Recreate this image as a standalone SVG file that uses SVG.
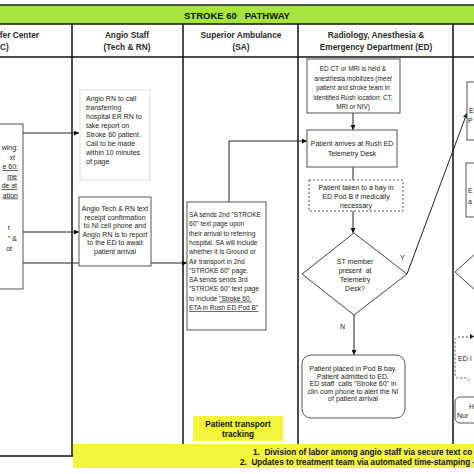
<svg xmlns="http://www.w3.org/2000/svg" width="474" height="474" viewBox="0 0 474 474">
<defs>
<marker id="arr" markerWidth="5" markerHeight="5" refX="5" refY="2.5" orient="auto" markerUnits="userSpaceOnUse">
<path d="M0,0 L5,2.5 L0,5 z" fill="#111"/>
</marker>
<style>
.hd{font-family:"Liberation Sans",Arial,sans-serif;font-weight:bold;font-size:8.3px;fill:#2a2a2a;text-anchor:middle}
.t{font-family:"Liberation Sans",Arial,sans-serif;font-size:7px;fill:#222}
.s{font-size:6.6px}
.c{text-anchor:middle}
.box{fill:#fff;stroke:#555;stroke-width:1}
.grid{stroke:#111;stroke-width:1.5;fill:none}
.con{stroke:#222;stroke-width:1;fill:none}
.yb{font-family:"Liberation Sans",Arial,sans-serif;font-weight:bold;font-size:8.2px;fill:#111}
.u{text-decoration:underline}
</style>
</defs>
<rect x="0" y="0" width="474" height="474" fill="#fff"/>

<!-- title bar -->
<g id="title">
<rect x="0" y="5" width="474" height="19" fill="#a6e63c"/>
<line x1="0" y1="5" x2="474" y2="5" stroke="#222" stroke-width="1.5"/>
<text x="237" y="18.5" font-family="Liberation Sans, Arial, sans-serif" font-weight="bold" font-size="9.5" fill="#111" text-anchor="middle" xml:space="preserve">STROKE 60   PATHWAY</text>
</g>

<!-- grid -->
<g id="grid">
<line class="grid" x1="0" y1="24" x2="474" y2="24"/>
<line class="grid" x1="0" y1="57" x2="474" y2="57"/>
<line class="grid" x1="72" y1="24" x2="72" y2="456"/>
<line class="grid" x1="183" y1="24" x2="183" y2="444"/>
<line class="grid" x1="298" y1="24" x2="298" y2="444"/>
<line class="grid" x1="453" y1="24" x2="453" y2="444"/>
<line class="grid" x1="0" y1="456" x2="73" y2="456"/>
</g>

<!-- headers -->
<g id="headers">
<text class="hd" x="39" y="38" style="text-anchor:end">fer Center</text>
<text class="hd" x="0" y="50" style="text-anchor:start">C)</text>
<text class="hd" x="127" y="38">Angio Staff</text>
<text class="hd" x="127" y="50">(Tech &amp; RN)</text>
<text class="hd" x="241" y="38">Superior Ambulance</text>
<text class="hd" x="241" y="50">(SA)</text>
<text class="hd" x="376" y="38">Radiology, Anesthesia &amp;</text>
<text class="hd" x="376" y="50">Emergency Department (ED)</text>
</g>

<!-- connectors -->
<g id="connectors">
<path class="con" d="M23,133 H79" marker-end="url(#arr)"/>
<path class="con" d="M23,232 H79" marker-end="url(#arr)"/>
<path class="con" d="M0,263 H187" marker-end="url(#arr)"/>
<path class="con" d="M229,202 V141 H307" marker-end="url(#arr)"/>
<path class="con" d="M353,113 V130" marker-end="url(#arr)"/>
<path class="con" d="M353,167 V180"/>
<path class="con" d="M353,211 V233" marker-end="url(#arr)"/>
<path class="con" d="M407,274 L467,113" marker-end="url(#arr)"/>
<path class="con" d="M354,315 V355" marker-end="url(#arr)"/>
<text class="t" x="400" y="260">Y</text>
<text class="t" x="340" y="329">N</text>
</g>

<!-- left partial box -->
<g id="tc-box">
<rect class="box" x="-5" y="124" width="28" height="165"/>
<text class="t" x="18" y="150" style="text-anchor:end">wing:</text>
<text class="t" x="15" y="159.5" style="text-anchor:end">xt</text>
<text class="t u" x="18" y="169" style="text-anchor:end">e 60:</text>
<text class="t u" x="17" y="178.5" style="text-anchor:end">me</text>
<text class="t u" x="17" y="188" style="text-anchor:end">de at</text>
<text class="t u" x="18" y="197.5" style="text-anchor:end">ation</text>
<text class="t" x="10" y="230" style="text-anchor:end">r</text>
<text class="t" x="17" y="241" style="text-anchor:end">" &amp;</text>
<text class="t" x="12" y="251" style="text-anchor:end">ot</text>
</g>

<g id="angio-rn">
<rect x="80" y="90" width="70" height="90" fill="#fff" stroke="#ddd" stroke-width="1"/>
<text class="t" x="86" y="101">Angio RN to call</text>
<text class="t" x="86" y="110">transferring</text>
<text class="t" x="86" y="119">hospital ER RN to</text>
<text class="t" x="86" y="128">take report on</text>
<text class="t" x="86" y="137">Stroke 60 patient.</text>
<text class="t" x="86" y="146">Call to be made</text>
<text class="t" x="86" y="155">within 10 minutes</text>
<text class="t" x="86" y="164">of page</text>
</g>

<g id="angio-tech">
<rect class="box" x="79" y="197" width="72" height="69"/>
<text class="t c" x="115" y="211">Angio Tech &amp; RN text</text>
<text class="t c" x="115" y="219.5">receipt confirmation</text>
<text class="t c" x="115" y="228">to NI cell phone and</text>
<text class="t c" x="115" y="236.5">Angio RN is to report</text>
<text class="t c" x="115" y="245">to the ED to await</text>
<text class="t c" x="115" y="253.5">patient arrival</text>
</g>

<g id="sa-box">
<rect class="box" x="187" y="202" width="79" height="128"/>
<text class="t s" x="189" y="217">SA sends 2nd "STROKE</text>
<text class="t s" x="189" y="226.3">60" text page upon</text>
<text class="t s" x="189" y="235.6">their arrival to referring</text>
<text class="t s" x="189" y="244.9">hospital. SA will include</text>
<text class="t s" x="189" y="254.2">whether it is Ground or</text>
<text class="t s" x="189" y="263.5">Air transport in 2nd</text>
<text class="t s" x="189" y="272.8">"STROKE 60" page.</text>
<text class="t s" x="189" y="282.1">SA sends sends 3rd</text>
<text class="t s" x="189" y="291.4">"STROKE 60" text page</text>
<text class="t s" x="189" y="300.7">to include <tspan class="u">"Stroke 60,</tspan></text>
<text class="t s u" x="189" y="310">ETA in Rush ED Pod B"</text>
</g>

<g id="ed-held">
<rect class="box" x="307" y="59" width="93" height="54"/>
<text class="t c" x="353" y="71" style="font-size:6.4px">ED CT or MRI is held &amp;</text>
<text class="t c" x="353" y="80.5" style="font-size:6.4px">anesthesia mobilizes (<tspan font-style="italic">meet</tspan></text>
<text class="t c" x="353" y="90" style="font-size:6.4px">patient and stroke team in</text>
<text class="t c" x="353" y="99.5" style="font-size:6.4px">identified Rush location: CT,</text>
<text class="t c" x="353" y="109" style="font-size:6.4px">MRI or NIV)</text>
</g>

<g id="ed-arrives">
<rect class="box" x="307" y="130" width="90" height="37"/>
<text class="t c" x="352" y="146">Patient arrives at Rush ED</text>
<text class="t c" x="352" y="155.5">Telemetry Desk</text>
</g>

<g id="ed-pod">
<rect x="309" y="180" width="94" height="31" fill="#fff" stroke="#555" stroke-width="1" stroke-dasharray="2,2"/>
<text class="t c" x="356" y="189.5">Patient taken to a bay in</text>
<text class="t c" x="356" y="199">ED Pod B if medically</text>
<text class="t c" x="356" y="207.5">necessary</text>
</g>

<g id="st-decision">
<polygon points="354,233 407,274 354,315 302,274" fill="#fff" stroke="#444" stroke-width="1"/>
<text class="t c" x="355" y="264">ST member</text>
<text class="t c" x="355" y="273" xml:space="preserve">present  at</text>
<text class="t c" x="355" y="282">Telemetry</text>
<text class="t c" x="355" y="291">Desk?</text>
</g>

<g id="ed-placed">
<rect class="box" x="302" y="355" width="103" height="63" rx="9"/>
<text class="t c" x="353" y="371">Patient placed in Pod B bay.</text>
<text class="t c" x="353" y="378.5">Patient admitted to ED.</text>
<text class="t c" x="353" y="386" xml:space="preserve">ED staff  calls "Stroke 60" in</text>
<text class="t c" x="353" y="393.5">clin com phone to alert the NI</text>
<text class="t c" x="353" y="401">of patient arrival</text>
</g>

<!-- right partial column -->
<g id="right-box-1">
<rect class="box" x="467" y="82" width="20" height="58"/>
<text class="t" x="469" y="113">E</text>
<text class="t" x="468" y="123">P</text>
</g>
<g id="right-box-2">
<rect class="box" x="466" y="163" width="20" height="54"/>
<text class="t" x="468" y="193">E</text>
<text class="t" x="468" y="204">a</text>
</g>
<g id="right-decision">
<polyline points="476,253 455,272 476,291" fill="none" stroke="#444" stroke-width="1"/>
</g>
<g id="right-dashed">
<path d="M472,337 H459 Q455,337 455,341 V374 Q455,378 459,378 H467 L470,381" fill="none" stroke="#555" stroke-width="1" stroke-dasharray="2,2"/>
<path d="M470,334 L474,336.5 L470,339 z" fill="#111"/>
<text class="t" x="458" y="361">ED I</text>
</g>
<g id="right-box-3">
<rect class="box" x="455" y="397" width="30" height="26" rx="5"/>
<text class="t" x="469" y="409">H</text>
<text class="t" x="457" y="418">Nur</text>
</g>

<!-- yellow notes -->
<g id="transport-tracking">
<rect x="193" y="416" width="90" height="25" fill="#f2f53c"/>
<text class="yb" x="238" y="427" text-anchor="middle">Patient transport</text>
<text class="yb" x="238" y="436.5" text-anchor="middle">tracking</text>
</g>
<g id="notes-bar">
<rect x="73" y="444" width="401" height="24" fill="#f2f53c"/>
<text class="yb" x="253" y="455" xml:space="preserve">1.  Division of labor among angio staff via secure text co</text>
<text class="yb" x="240" y="465" xml:space="preserve">2.  Updates to treatment team via automated time-stamping -</text>
</g>
</svg>
